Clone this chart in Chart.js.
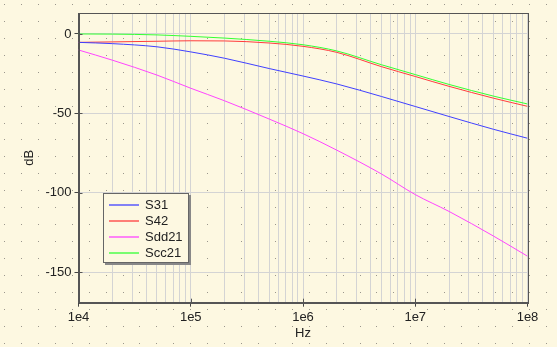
<!DOCTYPE html>
<html>
<head>
<meta charset="utf-8">
<script src="https://cdn.jsdelivr.net/npm/chart.js@4.4.1/dist/chart.umd.min.js"></script>
<style>
  body { margin: 0; background: #fdf8e1; }
  #wrap { position: relative; width: 557px; height: 347px; }
  #legend {
    position: absolute; left: 103px; top: 193px; width: 86px; height: 70px;
    box-sizing: border-box; border: 1px solid #666; box-shadow: 2px 2px 0 #888;
    background: #fdf8e1; padding: 3px 0 0 4px;
    font: 13px "Liberation Sans", Arial, sans-serif; color: #222;
  }
  .row { height: 16px; position: relative; }
  .swatch { position: absolute; left: 1px; top: 7px; width: 30px; height: 2px; opacity: 0.65; }
  .label { position: absolute; left: 37px; top: 0; line-height: 16px; }
</style>
</head>
<body>
<div id="wrap">
  <canvas id="chart" width="557" height="347"></canvas>
  <div id="legend"></div>
</div>
<script>
// frequency points (Hz) and the four traces in dB
const freqs = [1e4, 2e4, 5e4, 1e5, 2e5, 5e5, 1e6, 2e6, 5e6, 1e7, 2e7, 5e7, 1e8];
const s31   = [-5.3, -6.1, -8.1, -11.3, -15.3, -21.8, -26.5, -31.5, -39.4, -45.7, -52.0, -60.1, -65.7];
const s42   = [-5.3, -5.0, -4.6, -4.3, -4.4, -5.7, -7.8, -11.6, -20.6, -26.8, -33.0, -40.5, -45.6];
const sdd21 = [-10.1, -16.5, -25.9, -34.2, -42.1, -53.6, -62.8, -73.2, -88.2, -101.2, -111.8, -127.4, -140.0];
const scc21 = [0, -0.1, -0.6, -1.5, -2.6, -4.6, -6.8, -10.7, -19.4, -25.6, -31.8, -39.2, -44.1];

const seriesNames = ['S31', 'S42', 'Sdd21', 'Scc21'];
const seriesColors = ['#4040ff', '#ff3c3c', '#ff44ff', '#33ff33'];

const xTicks = [1e4, 1e5, 1e6, 1e7, 1e8];
const xTickLabels = ['1e4', '1e5', '1e6', '1e7', '1e8'];
const yTicks = [-150, -100, -50, 0];

const FONT = { family: '"Liberation Sans", Arial, sans-serif', size: 13 };
const BG = '#fdf8e1';

function pts(vals) {
  return freqs.map((f, i) => ({ x: f, y: vals[i] }));
}

function majorIndex(v) {
  return xTicks.findIndex(t => Math.abs(v - t) / t < 1e-6);
}

// background with the dotted pattern
const dotsPlugin = {
  id: 'dots',
  beforeDraw(chart) {
    const ctx = chart.ctx;
    ctx.save();
    ctx.fillStyle = BG;
    ctx.fillRect(0, 0, chart.width, chart.height);
    ctx.fillStyle = '#9a968c';
    const step = 16.93;
    for (let y = 4; y < chart.height; y += step) {
      for (let x = 4; x < chart.width; x += step) {
        ctx.fillRect(Math.round(x), Math.round(y), 1, 1);
      }
    }
    ctx.restore();
  }
};

// frame round the plot and short inward tick marks
const framePlugin = {
  id: 'frame',
  afterDraw(chart) {
    const { ctx, chartArea: a, scales } = chart;
    ctx.save();
    ctx.strokeStyle = '#555';
    ctx.lineWidth = 1;
    ctx.strokeRect(Math.round(a.left) + 0.5, Math.round(a.top) + 0.5,
      Math.round(a.right - a.left), Math.round(a.bottom - a.top));
    ctx.beginPath();
    xTicks.forEach(v => {
      const px = Math.round(scales.x.getPixelForValue(v)) + 0.5;
      ctx.moveTo(px, a.bottom);
      ctx.lineTo(px, a.bottom - 4);
    });
    yTicks.forEach(v => {
      const py = Math.round(scales.y.getPixelForValue(v)) + 0.5;
      ctx.moveTo(a.left, py);
      ctx.lineTo(a.left + 4, py);
    });
    ctx.stroke();
    ctx.restore();
  }
};

const seriesValues = [s31, s42, sdd21, scc21];

const chart = new Chart(document.getElementById('chart'), {
  type: 'line',
  data: {
    datasets: seriesValues.map((vals, i) => ({
      label: seriesNames[i],
      data: pts(vals),
      borderColor: seriesColors[i],
      borderWidth: 1,
      pointRadius: 0,
      fill: false,
      cubicInterpolationMode: 'monotone'
    }))
  },
  options: {
    responsive: false,
    animation: false,
    layout: { padding: { top: 13, right: 29.5, bottom: 0, left: 0 } },
    plugins: { legend: { display: false }, tooltip: { enabled: false } },
    scales: {
      x: {
        type: 'logarithmic',
        min: 1e4,
        max: 1e8,
        afterBuildTicks(scale) {
          const t = [];
          for (let e = 4; e < 8; e++) {
            for (let k = 1; k < 10; k++) t.push({ value: k * Math.pow(10, e) });
          }
          t.push({ value: 1e8 });
          scale.ticks = t;
        },
        afterFit(scale) { scale.height = 44.3; },
        grid: {
          color: '#d4d4d4',
          tickLength: 4,
          tickColor: c => majorIndex(c.tick.value) >= 0 ? '#444' : 'rgba(0,0,0,0)'
        },
        border: { color: '#555' },
        ticks: {
          autoSkip: false, maxRotation: 0, padding: 3, font: FONT, color: '#222',
          callback: v => { const i = majorIndex(v); return i >= 0 ? xTickLabels[i] : ''; }
        },
        title: { display: true, text: 'Hz', font: FONT, color: '#222', padding: { top: 0, bottom: 6 } }
      },
      y: {
        min: -169.3,
        max: 13.2,
        afterBuildTicks(scale) { scale.ticks = yTicks.map(v => ({ value: v })); },
        afterFit(scale) { scale.width = 78.5; },
        grid: { color: '#d4d4d4', tickLength: 4, tickColor: '#444' },
        border: { color: '#555' },
        ticks: { padding: 3, font: FONT, color: '#222' },
        title: { display: true, text: 'dB', font: FONT, color: '#222', padding: { top: 22, bottom: 0 } }
      }
    }
  },
  plugins: [dotsPlugin, framePlugin]
});

// legend box inside the plot
const legend = document.getElementById('legend');
seriesNames.forEach((name, i) => {
  const row = document.createElement('div');
  row.className = 'row';
  const sw = document.createElement('span');
  sw.className = 'swatch';
  sw.style.backgroundColor = seriesColors[i];
  const txt = document.createElement('span');
  txt.className = 'label';
  txt.textContent = name;
  row.appendChild(sw);
  row.appendChild(txt);
  legend.appendChild(row);
});
</script>
</body>
</html>
